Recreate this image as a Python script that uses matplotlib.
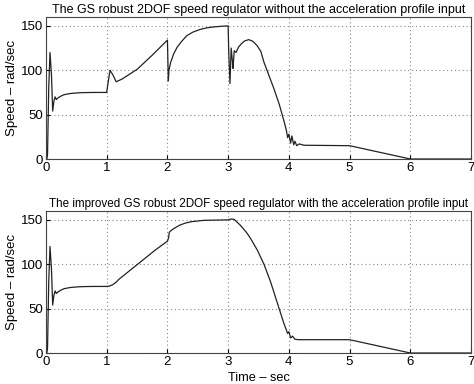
import matplotlib
matplotlib.use("Agg")
import matplotlib.pyplot as plt

plt.rcParams["font.family"] = ["Liberation Sans", "DejaVu Sans"]

# top panel: regulator without acceleration profile input
t_top = [0, 0.01, 0.025, 0.045, 0.066, 0.09, 0.11, 0.13, 0.15, 0.17, 0.2, 0.25, 0.3, 0.4,
         0.5, 0.6, 0.8, 1.0, 1.02, 1.055, 1.1, 1.156, 1.25, 1.5, 1.75, 2.0, 2.015, 2.025,
         2.05, 2.1, 2.16, 2.24, 2.32, 2.42, 2.54, 2.65, 2.76, 2.9, 3.0, 3.01, 3.03, 3.05,
         3.07, 3.08, 3.1, 3.13, 3.17, 3.22, 3.27, 3.34, 3.41, 3.48, 3.54, 3.59, 3.64, 3.7,
         3.75, 3.8, 3.84, 3.89, 3.93, 3.96, 3.98, 4.0, 4.03, 4.05, 4.08, 4.1, 4.13, 4.17,
         4.25, 5.0, 6.0, 7.0]
v_top = [20, 0, 5, 80, 120, 95, 54, 65, 70, 67, 69, 71, 72.5, 73.8,
         74.4, 74.8, 75, 75, 85, 100, 95, 87, 90, 101, 117, 134, 88, 100,
         108, 118, 126, 133, 139, 143, 146, 147.8, 148.8, 149.6, 150, 120, 85, 125,
         110, 102, 122, 120, 126, 130, 133, 134.5, 132.5, 127.5, 121, 109, 100, 89,
         80, 70, 62, 50, 40, 32, 24, 28, 18, 26, 16, 20, 15, 17,
         15.5, 15, 0, 0]

# bottom panel: improved regulator with acceleration profile input
t_bot = [0, 0.01, 0.025, 0.045, 0.066, 0.09, 0.11, 0.13, 0.15, 0.17, 0.2, 0.25, 0.3, 0.4,
         0.5, 0.6, 0.8, 1.0, 1.05, 1.1, 1.15, 1.2, 1.4, 1.6, 1.8, 2.0, 2.02, 2.03, 2.06,
         2.1, 2.2, 2.3, 2.4, 2.6, 3.0, 3.05, 3.1, 3.2, 3.3, 3.37, 3.48, 3.59, 3.7, 3.77,
         3.84, 3.92, 3.98, 4.0, 4.03, 4.06, 4.1, 4.16, 5.0, 6.0, 7.0]
v_bot = [20, 0, 5, 80, 120, 95, 54, 65, 70, 67, 69, 71, 72.5, 73.8,
         74.4, 74.8, 75, 75, 75.5, 77, 79.5, 83, 94, 105, 116, 126, 130, 136, 138,
         140, 144, 146.5, 148, 149.5, 150, 151, 150.5, 144, 136, 129, 116, 100, 80, 65,
         50, 33, 22, 24, 17, 19, 15.5, 15, 15, 0, 0]

titles = ["The GS robust 2DOF speed regulator without the acceleration profile input",
          "The improved GS robust 2DOF speed regulator with the acceleration profile input"]
title_sizes = [9.0, 8.4]

fig = plt.figure(figsize=(4.74, 3.84), dpi=100)
ax1 = fig.add_axes([46 / 474, 1 - 159 / 384, 425 / 474, 142 / 384])
ax2 = fig.add_axes([46 / 474, 1 - 353 / 384, 425 / 474, 142 / 384])

for ax, t, v, title, ts in [(ax1, t_top, v_top, titles[0], title_sizes[0]),
                            (ax2, t_bot, v_bot, titles[1], title_sizes[1])]:
    ax.plot(t, v, color="#222222", lw=0.9)
    ax.set_xlim(0, 7)
    ax.set_ylim(0, 160)
    ax.set_xticks(range(8))
    ax.set_yticks([0, 50, 100, 150])
    ax.grid(True, linestyle=(0, (1, 2.5)), color="#888888", lw=0.8)
    ax.tick_params(direction="in", labelsize=9.5, length=3, pad=2)
    ax.set_ylabel("Speed \u2013 rad/sec", fontsize=9.5, labelpad=2)
    ax.set_title(title, fontsize=ts, pad=3)
    for s in ax.spines.values():
        s.set_linewidth(0.8)
        s.set_color("#444444")

ax2.set_xlabel("Time \u2013 sec", fontsize=9.2, labelpad=3)

fig.savefig("out.png", dpi=100)
